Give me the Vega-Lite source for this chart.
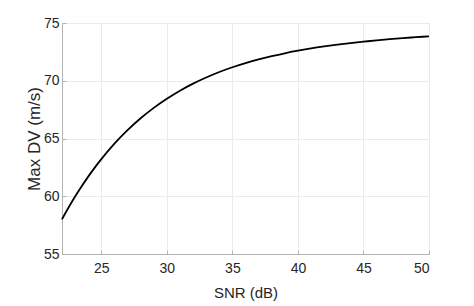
{
  "$schema": "https://vega.github.io/schema/vega-lite/v6.json",
  "width": 367,
  "height": 231,
  "autosize": {"type": "none"},
  "padding": {"left": 62, "top": 23, "right": 45, "bottom": 52},
  "background": "white",
  "config": {
    "view": {"stroke": "#b3b3b3", "strokeWidth": 1},
    "axis": {
      "domainColor": "#b3b3b3",
      "gridColor": "#ebebeb",
      "gridWidth": 1,
      "tickColor": "#b3b3b3",
      "tickSize": -4,
      "labelColor": "#262626",
      "titleColor": "#262626",
      "labelFont": "Liberation Sans",
      "titleFont": "Liberation Sans",
      "labelFontSize": 14,
      "titleFontSize": 15,
      "titleFontWeight": "normal"
    }
  },
  "data": {
    "values": [
      {"snr": 22, "dv": 58.0},
      {"snr": 22.5, "dv": 59.02},
      {"snr": 23, "dv": 59.97},
      {"snr": 23.5, "dv": 60.86},
      {"snr": 24, "dv": 61.7},
      {"snr": 24.5, "dv": 62.48},
      {"snr": 25, "dv": 63.21},
      {"snr": 26, "dv": 64.55},
      {"snr": 27, "dv": 65.72},
      {"snr": 28, "dv": 66.75},
      {"snr": 29, "dv": 67.65},
      {"snr": 30, "dv": 68.44},
      {"snr": 31, "dv": 69.14},
      {"snr": 32, "dv": 69.75},
      {"snr": 33, "dv": 70.28},
      {"snr": 34, "dv": 70.76},
      {"snr": 35, "dv": 71.17},
      {"snr": 36, "dv": 71.53},
      {"snr": 37, "dv": 71.85},
      {"snr": 38, "dv": 72.13},
      {"snr": 39, "dv": 72.38},
      {"snr": 40, "dv": 72.6},
      {"snr": 41, "dv": 72.8},
      {"snr": 42, "dv": 72.97},
      {"snr": 43, "dv": 73.12},
      {"snr": 44, "dv": 73.26},
      {"snr": 45, "dv": 73.38},
      {"snr": 46, "dv": 73.5},
      {"snr": 47, "dv": 73.6},
      {"snr": 48, "dv": 73.69},
      {"snr": 49, "dv": 73.77},
      {"snr": 50, "dv": 73.85}
    ]
  },
  "mark": {"type": "line", "color": "black", "strokeWidth": 1.8, "interpolate": "monotone"},
  "encoding": {
    "x": {
      "field": "snr",
      "type": "quantitative",
      "scale": {"domain": [22, 50], "nice": false, "zero": false},
      "axis": {"values": [25, 30, 35, 40, 45, 50], "title": "SNR (dB)", "labelPadding": 11, "titlePadding": 10}
    },
    "y": {
      "field": "dv",
      "type": "quantitative",
      "scale": {"domain": [55, 75], "nice": false, "zero": false},
      "axis": {"values": [55, 60, 65, 70, 75], "title": "Max DV (m/s)", "labelPadding": 7, "titlePadding": 0, "titleFontSize": 17}
    }
  }
}
